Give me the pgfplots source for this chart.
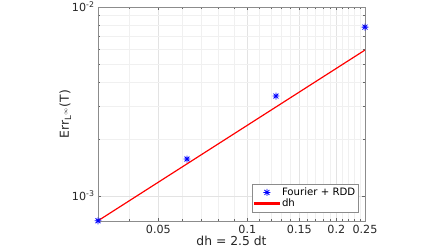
\documentclass[border=0pt]{standalone}
\usepackage{fontspec}
\setmainfont{DejaVu Sans}
\usepackage{pgfplots}
\pgfplotsset{compat=1.18}
\pgfdeclareplotmark{mstar}{%
  \pgfpathmoveto{\pgfqpoint{-\pgfplotmarksize}{0pt}}\pgfpathlineto{\pgfqpoint{\pgfplotmarksize}{0pt}}%
  \pgfpathmoveto{\pgfqpoint{0pt}{-\pgfplotmarksize}}\pgfpathlineto{\pgfqpoint{0pt}{\pgfplotmarksize}}%
  \pgfpathmoveto{\pgfqpoint{-0.707\pgfplotmarksize}{-0.707\pgfplotmarksize}}\pgfpathlineto{\pgfqpoint{0.707\pgfplotmarksize}{0.707\pgfplotmarksize}}%
  \pgfpathmoveto{\pgfqpoint{-0.707\pgfplotmarksize}{0.707\pgfplotmarksize}}\pgfpathlineto{\pgfqpoint{0.707\pgfplotmarksize}{-0.707\pgfplotmarksize}}%
  \pgfusepathqstroke}
\begin{document}
\begin{tikzpicture}
\path[use as bounding box] (-98bp,-31bp) rectangle (350bp,221bp);
\begin{loglogaxis}[
  at={(0,0)}, anchor=south west,
  scale only axis, width=267bp, height=214bp,
  xmin=0.03125, xmax=0.25, ymin=7.38e-4, ymax=1e-2,
  xtick={0.05,0.1,0.15,0.2,0.25},
  xticklabels={0.05,0.1,0.15,0.2,0.25},
  minor xtick={0.04,0.06,0.07,0.08,0.09,0.11,0.12,0.13,0.14,0.16,0.17,0.18,0.19,0.21,0.22,0.23,0.24},
  ytick={1e-3,1e-2},
  yticklabels={10\textsuperscript{-3},10\textsuperscript{-2}},
  grid=both,
  major grid style={gray!22, line width=0.5pt},
  minor grid style={gray!12, line width=0.5pt},
  axis line style={black!45, line width=0.6pt},
  tick style={black!60, line width=0.5pt},
  tick align=inside,
  major tick length=3bp, minor tick length=1.8bp,
  every tick label/.append style={font=\fontsize{11.2}{12}\selectfont, text=black!85},
  xticklabel style={yshift=-1bp},
  xlabel={dh = 2.5 dt},
  ylabel={Err\textsubscript{L\textsuperscript{$\infty$}}(T)},
  label style={font=\fontsize{12.4}{14}\selectfont, text=black!85},
  xlabel style={yshift=5bp},
  ylabel style={yshift=-6bp},
  legend style={at={(1,0)}, anchor=south east, xshift=-6bp, yshift=9bp,
    font=\fontsize{10.2}{11}\selectfont, draw=black!45, line width=0.5pt,
    inner sep=1.5pt, row sep=-2pt, cells={anchor=west}},
  legend cell align=left,
]
\addplot[only marks, mark=mstar, mark size=3.5pt, blue, line width=0.8pt,
  legend image code/.code={\draw[blue, line width=0.8pt, mark=mstar, mark size=3.5pt, only marks] plot coordinates {(12.5bp,0bp)}; \path (0bp,0bp) (25bp,0bp);}]
  coordinates {(0.03125,7.4e-4) (0.0625,1.57e-3) (0.125,3.38e-3) (0.25,7.83e-3)};
\addlegendentry{Fourier + RDD}
\addplot[red, line width=1.2pt, no marks,
  legend image code/.code={\fill[red] (0bp,-0.7bp) rectangle (25bp,0.7bp);}]
  coordinates {(0.03125,7.4e-4) (0.25,5.92e-3)};
\addlegendentry{dh}
\end{loglogaxis}
\end{tikzpicture}
\end{document}
